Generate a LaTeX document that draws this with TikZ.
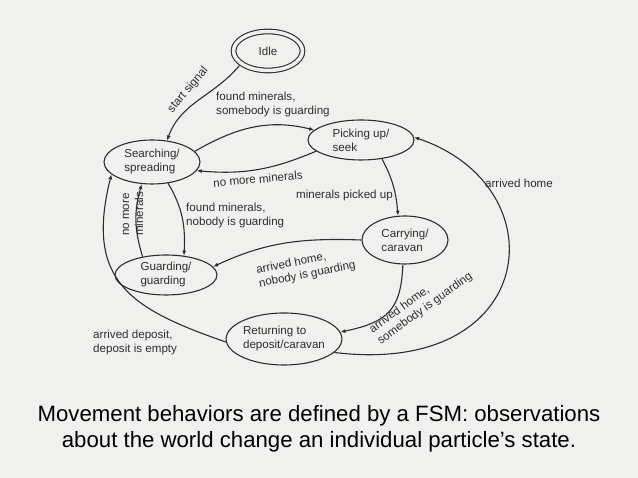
\documentclass[tikz,border=0pt]{standalone}
\usepackage{fontspec}
\setmainfont{Liberation Sans}
\usetikzlibrary{shapes.geometric,arrows.meta}
\definecolor{paper}{RGB}{240,240,238}
\definecolor{ink}{RGB}{45,45,45}
\tikzset{
    state/.style={ellipse, draw=ink, line width=1.1pt, inner sep=0pt, align=left, text=ink, font=\fontsize{11.6}{14}\selectfont},
    trans/.style={draw=ink, line width=1.1pt, -{Latex[length=5pt,width=4pt]}},
    lbl/.style={align=left, inner sep=0pt, text=ink, font=\fontsize{11.6}{14}\selectfont},
}

\begin{document}
\begin{tikzpicture}[x=1pt,y=1pt]
        \fill[paper] (0,0) rectangle (638,478);
        \useasboundingbox (0,0) rectangle (638,478);
        %states
        \node[state, double=paper, double distance=3.5pt, minimum width=69pt, minimum height=39pt, outer sep=3pt] (idle) at (268,427) {Idle};
        \node[state, minimum width=96pt, minimum height=44pt] (search) at (152,316) {Searching/\\spreading};
        \node[state, minimum width=106pt, minimum height=40pt] (pick) at (361,338) {Picking up/\\seek};
        \node[state, minimum width=86pt, minimum height=48pt] (carry) at (405,238) {Carrying/\\caravan};
        \node[state, minimum width=102pt, minimum height=40pt] (guard) at (166,203) {Guarding/\\guarding};
        \node[state, minimum width=114pt, minimum height=52pt] (ret) at (284,139) {Returning to\\deposit/caravan};
        %transitions
        \draw[trans] (idle.207) to[out=230, in=70] (search.55);
        \draw[trans] (search.14) to[out=30, in=166] (pick.168);
        \draw[trans] (pick.194) to[out=203, in=-5] (search.349);
        \draw[trans] (pick.318) to[out=-62, in=95] (carry.106);
        \draw[trans] (carry.west) to[out=178, in=25] (guard.10);
        \draw[trans] (carry.265) to[out=268, in=12, looseness=1.3] (ret.7);
        \draw[trans] (ret.345) .. controls +(205,-25) and +(146,-49) .. (pick.3);
        \draw[trans] (ret.183) .. controls +(-95,33) and +(-27,-107) .. (search.197);
        \draw[trans] (search.307) to[out=-59, in=87] (guard.47);
        \draw[trans] (guard.142) to[out=107, in=254] (search.245);
        %label transitions
        \node[lbl, rotate=50] (lstart) at (188,388) {start signal};
        \node[lbl, anchor=west] (lfound1) at (216,373) {found minerals,\\somebody is guarding};
        \node[lbl, rotate=5] (lnomore1) at (258,299) {no more minerals};
        \node[lbl, anchor=east] (lpicked) at (393,282) {minerals picked up};
        \node[lbl, rotate=11] (lhome1) at (306,210) {arrived home,\\nobody is guarding};
        \node[lbl, rotate=36] (lhome2) at (421,175) {arrived home,\\somebody is guarding};
        \node[lbl] (lhome3) at (519,295) {arrived home};
        \node[lbl, anchor=west] (ldeposit) at (93,135) {arrived deposit,\\deposit is empty};
        \node[lbl, anchor=west] (lfound2) at (186,262) {found minerals,\\nobody is guarding};
        \node[lbl, rotate=90] (lnomore2) at (133,264) {no more\\minerals};
        %caption
        \node[align=center, inner sep=0pt, font=\fontsize{22.2}{26}\selectfont] (caption) at (319,49.6)
        {Movement behaviors are defined by a FSM: observations\\about the world change an individual particle’s state.};
    \end{tikzpicture}
\end{document}
